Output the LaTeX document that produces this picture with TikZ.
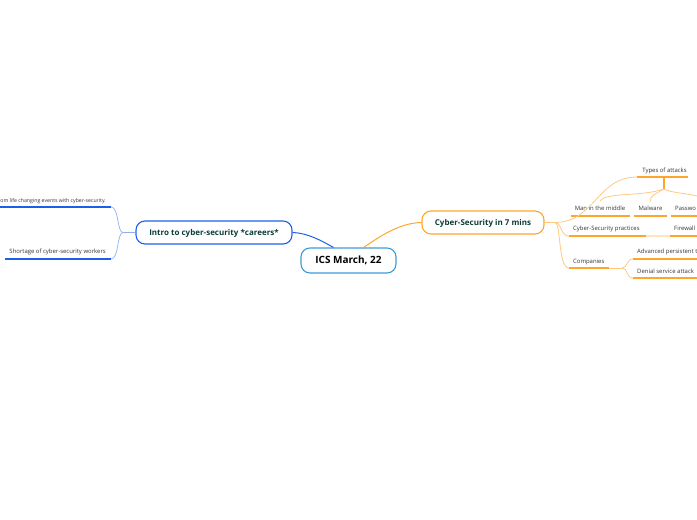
\documentclass[tikz,border=0pt]{standalone}
\usepackage{fontspec}
\setmainfont{Open Sans}
\usetikzlibrary{calc}
\definecolor{rootblue}{HTML}{3D9AD6}
\definecolor{careerblue}{HTML}{1F5FE8}
\definecolor{attackorange}{HTML}{FFA52B}
\definecolor{maintext}{HTML}{0B3D36}
\tikzset{
	mainbox/.style={draw, rounded corners=9pt, line width=1.1pt, font=\bfseries\fontsize{8}{10}\selectfont, text=maintext, text depth=1pt, text height=6pt, inner sep=0pt},
	subtext/.style={inner sep=0pt, text=black!80, font=\fontsize{5.95}{7}\selectfont},
	careerlink/.style={draw=careerblue!50, line width=0.7pt},
	attacklink/.style={draw=attackorange!60, line width=0.8pt},
	careerbar/.style={draw=careerblue, line width=1.4pt},
	attackbar/.style={draw=attackorange, line width=1.4pt}
}
\begin{document}
\begin{tikzpicture}[x=1pt,y=-1pt]
	%%%%% START %%%%%
	\clip (0, 0) rectangle (697, 520);
	\useasboundingbox (0, 0) rectangle (697, 520);

	\node[mainbox, draw=rootblue, text=black, minimum width=95pt, minimum height=25pt, font=\bfseries\fontsize{10}{12}\selectfont, text height=7.5pt, text depth=1.5pt] (root) at (348.5, 260.5) {ICS March, 22};
	\node[mainbox, draw=careerblue, minimum width=156pt, minimum height=23pt] (intro) at (214, 232.5) {Intro to cyber-security *careers*};
	\node[mainbox, draw=attackorange, minimum width=122pt, minimum height=23pt] (cyber) at (483, 222.5) {Cyber-Security in 7 mins};

	\draw[careerlink, draw=careerblue, line width=1pt] (root.north) ++(-15, 0) coordinate (rootl) .. controls (322, 241) and (308, 233) .. (intro.east);
	\draw[attacklink, draw=attackorange, line width=1pt] (root.north) ++(15, 0) coordinate (rootr) .. controls (378, 238) and (398, 223) .. (cyber.west);

	% left side
	\node[subtext, anchor=base east, font=\fontsize{5.2}{7}\selectfont] (events) at (106, 202) {om life changing events with cyber-security.};
	\node[subtext, anchor=base east] (shortage) at (106, 253) {Shortage of cyber-security workers};
	\coordinate (eventsend) at (111, 207);
	\coordinate (shortageend) at (111, 259);
	\coordinate (introfork) at (123, 232.5);
	\draw[careerbar] (0, 207) -- (eventsend);
	\draw[careerbar] (5, 259) -- (shortageend);
	\draw[careerlink] (intro.west) -- (introfork);
	\draw[careerlink] (introfork) .. controls (117, 232.5) and (119, 207) .. (eventsend);
	\draw[careerlink] (introfork) .. controls (117, 232.5) and (119, 259) .. (shortageend);

	% right side
	\node[subtext, anchor=base] (types) at (664.5, 172) {Types of attacks};
	\node[subtext, anchor=base] (man) at (600, 210) {Man in the middle};
	\node[subtext, anchor=base] (malware) at (650.5, 210) {Malware};
	\node[subtext, anchor=base west] (password) at (675, 210) {Passwo};
	\node[subtext, anchor=base west] (practices) at (573, 230) {Cyber-Security practices};
	\node[subtext, anchor=base west] (firewall) at (674, 230) {Firewall};
	\node[subtext, anchor=base west] (companies) at (573, 263) {Companies};
	\node[subtext, anchor=base west] (persistent) at (637, 253) {Advanced persistent t};
	\node[subtext, anchor=base west] (denial) at (637, 273) {Denial service attack};

	\coordinate (cyberfork) at (555, 222.5);
	\coordinate (typesl) at (637, 177);
	\coordinate (typesc) at (664, 177);
	\coordinate (typesfork) at (664, 189);
	\coordinate (manr) at (630, 216);
	\coordinate (pracl) at (569, 236);
	\coordinate (compl) at (569, 268);
	\coordinate (compr) at (609, 268);
	\coordinate (compfork) at (622, 268);
	\coordinate (persl) at (633, 259);
	\coordinate (denl) at (633, 278);

	\draw[attackbar] (typesl) -- (688, 177);
	\draw[attackbar] (571, 216) -- (manr);
	\draw[attackbar] (634, 216) -- (667, 216);
	\draw[attackbar] (671, 216) -- (697, 216);
	\draw[attackbar] (pracl) -- (646, 236);
	\draw[attackbar] (670, 236) -- (697, 236);
	\draw[attacklink, draw=attackorange!30, line width=1.4pt] (646, 236) -- (670, 236);
	\draw[attackbar] (compl) -- (compr);
	\draw[attackbar] (persl) -- (697, 259);
	\draw[attackbar] (denl) -- (697, 278);

	\draw[attacklink] (cyber.east) -- (cyberfork);
	\draw[attacklink] (cyberfork) .. controls (595, 222) and (597, 177) .. (typesl);
	\draw[attacklink] (cyberfork) .. controls (562, 222.5) and (560, 236) .. (pracl);
	\draw[attacklink] (cyberfork) .. controls (561, 222.5) and (558, 268) .. (compl);
	\draw[attackbar] (typesc) -- (typesfork);
	\draw[attacklink] (typesfork) .. controls (640, 197) and (606, 192) .. (600, 201);
	\draw[attacklink] (typesfork) .. controls (656, 194) and (650, 195) .. (650, 202);
	\draw[attacklink] (typesfork) .. controls (672, 193) and (685, 193) .. (697, 196);
	\draw[attacklink] (compr) -- (compfork);
	\draw[attacklink] (compfork) .. controls (628, 268) and (626, 259) .. (persl);
	\draw[attacklink] (compfork) .. controls (628, 268) and (626, 278) .. (denl);
	%%%%% END %%%%%
\end{tikzpicture}
\end{document}
